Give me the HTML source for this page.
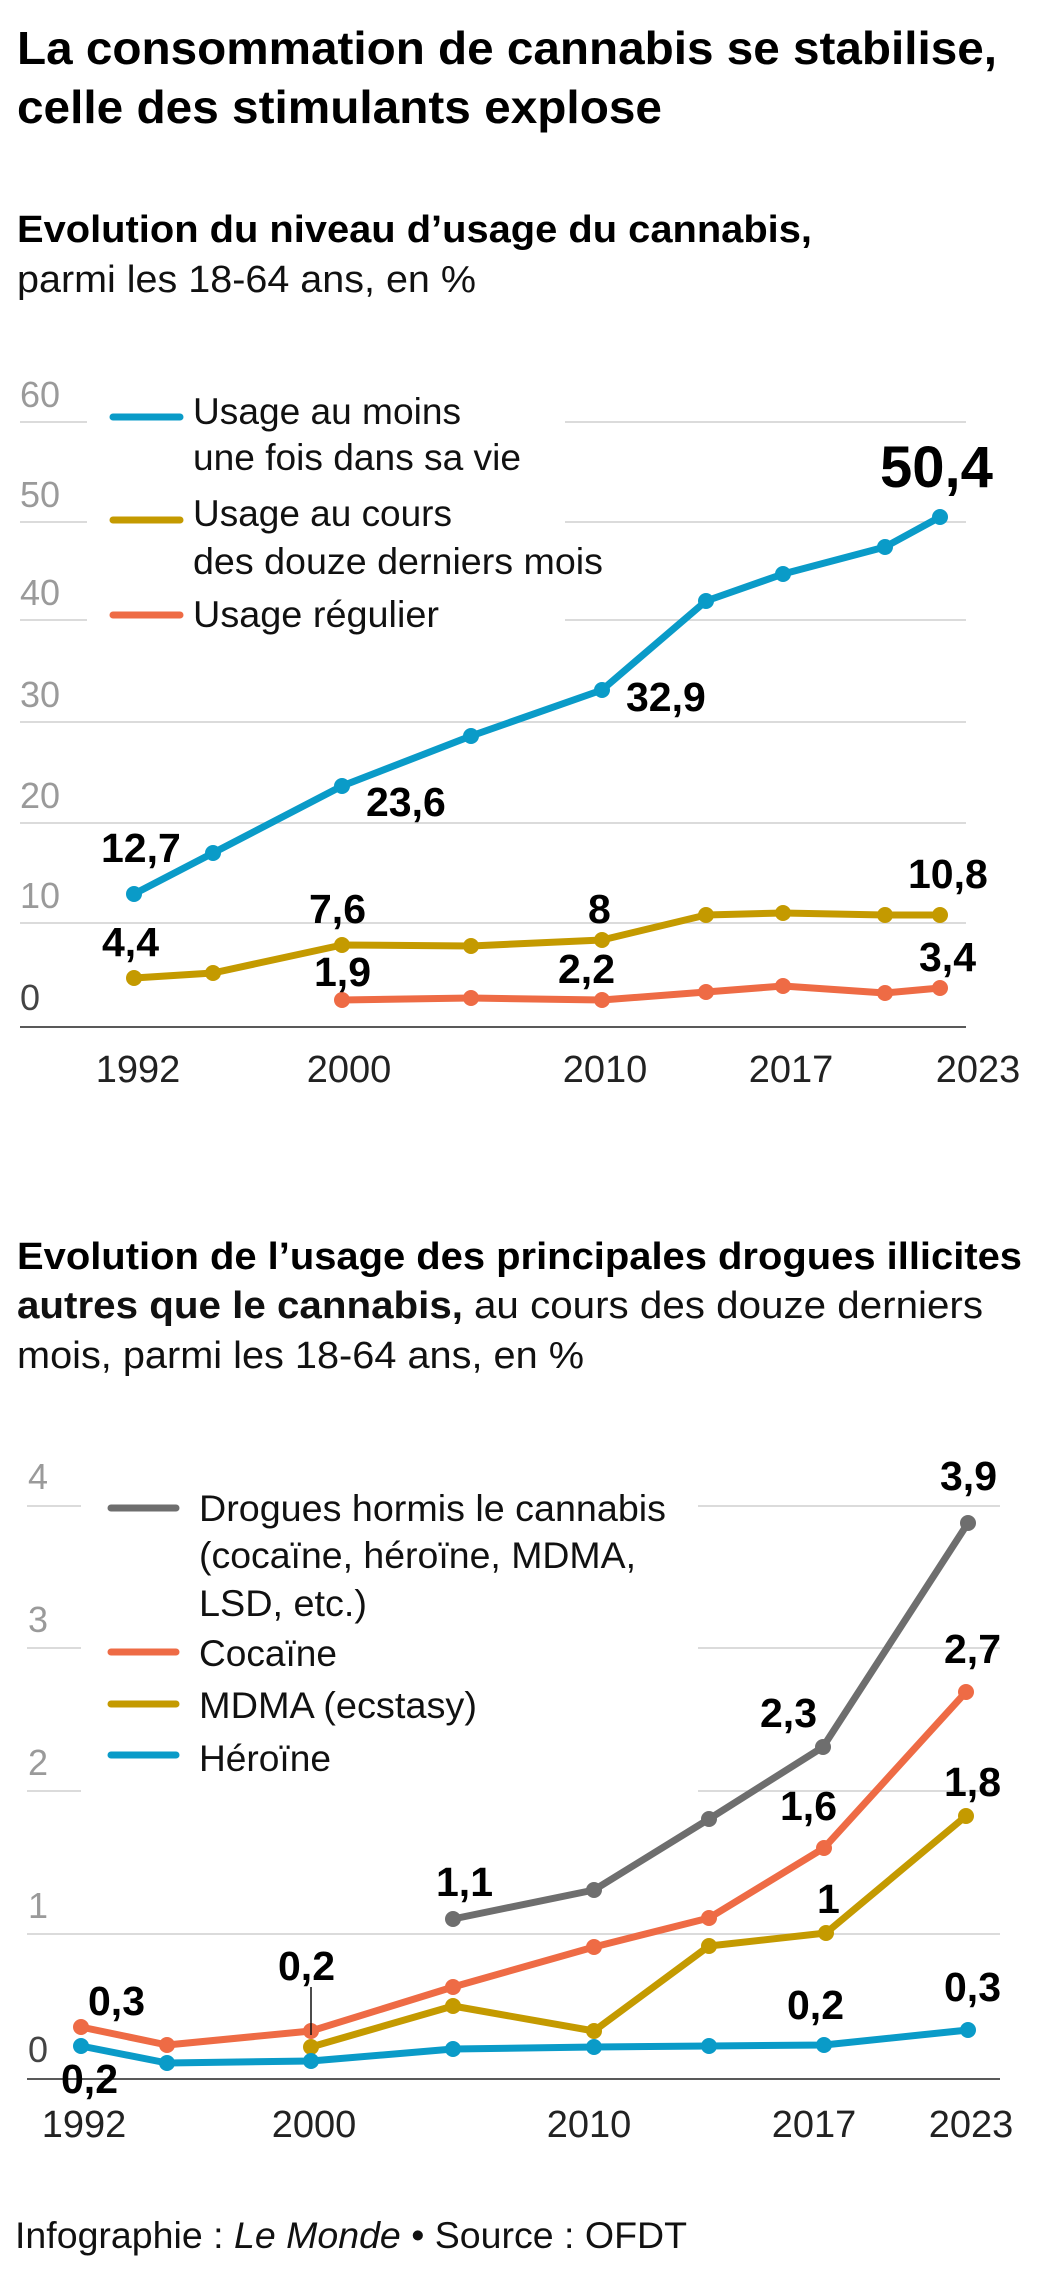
<!DOCTYPE html>
<html><head><meta charset="utf-8"><style>
html,body{margin:0;padding:0;background:#fff}
svg{display:block}
text{font-family:"Liberation Sans",sans-serif}
.b{font-weight:bold}
.y{fill:#9a9a9a;font-size:36px}
.x{fill:#222;font-size:38px;text-anchor:middle}
.l{fill:#111;font-size:37px}
.v{fill:#000;font-weight:bold;font-size:41px}
.g{stroke:#cfcfcf;stroke-width:1.5}
</style></head><body>
<svg width="1051" height="2295" viewBox="0 0 1051 2295" xmlns="http://www.w3.org/2000/svg">
<rect width="1051" height="2295" fill="#fff"/>
<text x="17" y="64" class="b" font-size="46" textLength="980" lengthAdjust="spacingAndGlyphs">La consommation de cannabis se stabilise,</text>
<text x="17" y="123" class="b" font-size="46" textLength="645" lengthAdjust="spacingAndGlyphs">celle des stimulants explose</text>

<text x="17" y="242" class="b" font-size="38" textLength="795" lengthAdjust="spacingAndGlyphs">Evolution du niveau d’usage du cannabis,</text>
<text x="17" y="292" font-size="38" fill="#111" textLength="459" lengthAdjust="spacingAndGlyphs">parmi les 18-64 ans, en %</text>

<g class="g">
<line x1="20" y1="422" x2="87" y2="422"/><line x1="565" y1="422" x2="966" y2="422"/>
<line x1="20" y1="522" x2="87" y2="522"/><line x1="565" y1="522" x2="966" y2="522"/>
<line x1="20" y1="620" x2="87" y2="620"/><line x1="565" y1="620" x2="966" y2="620"/>
<line x1="20" y1="722" x2="966" y2="722"/>
<line x1="20" y1="823" x2="966" y2="823"/>
<line x1="20" y1="923" x2="966" y2="923"/>
</g>
<line x1="20" y1="1027" x2="966" y2="1027" stroke="#222" stroke-width="1.5"/>
<text x="20" y="407" class="y">60</text>
<text x="20" y="507" class="y">50</text>
<text x="20" y="605" class="y">40</text>
<text x="20" y="707" class="y">30</text>
<text x="20" y="808" class="y">20</text>
<text x="20" y="908" class="y">10</text>
<text x="20" y="1010" class="y" style="fill:#444">0</text>

<line x1="113" y1="417" x2="180" y2="417" stroke="#0a9bc8" stroke-width="7" stroke-linecap="round"/>
<line x1="113" y1="520" x2="180" y2="520" stroke="#c49a00" stroke-width="7" stroke-linecap="round"/>
<line x1="113" y1="615" x2="180" y2="615" stroke="#ee6b45" stroke-width="7" stroke-linecap="round"/>
<text x="193" y="424" class="l" textLength="268" lengthAdjust="spacingAndGlyphs">Usage au moins</text>
<text x="193" y="470" class="l" textLength="328" lengthAdjust="spacingAndGlyphs">une fois dans sa vie</text>
<text x="193" y="526" class="l" textLength="259" lengthAdjust="spacingAndGlyphs">Usage au cours</text>
<text x="193" y="574" class="l" textLength="410" lengthAdjust="spacingAndGlyphs">des douze derniers mois</text>
<text x="193" y="627" class="l" textLength="246" lengthAdjust="spacingAndGlyphs">Usage régulier</text>

<g fill="none" stroke-width="7" stroke-linejoin="round">
<polyline stroke="#0a9bc8" points="134,894 213,853 342,786 471,736 602,690 706,601 783,574 885,547 940,517"/>
<polyline stroke="#c49a00" points="134,978 213,973 342,945 471,946 602,940 706,915 783,913 885,915 940,915"/>
<polyline stroke="#ee6b45" points="342,1000 471,998 602,1000 706,992 783,986 885,993 940,988"/>
</g>
<g fill="#0a9bc8"><circle cx="134" cy="894" r="8"/><circle cx="213" cy="853" r="8"/><circle cx="342" cy="786" r="8"/><circle cx="471" cy="736" r="8"/><circle cx="602" cy="690" r="8"/><circle cx="706" cy="601" r="8"/><circle cx="783" cy="574" r="8"/><circle cx="885" cy="547" r="8"/><circle cx="940" cy="517" r="8"/></g>
<g fill="#c49a00"><circle cx="134" cy="978" r="8"/><circle cx="213" cy="973" r="8"/><circle cx="342" cy="945" r="8"/><circle cx="471" cy="946" r="8"/><circle cx="602" cy="940" r="8"/><circle cx="706" cy="915" r="8"/><circle cx="783" cy="913" r="8"/><circle cx="885" cy="915" r="8"/><circle cx="940" cy="915" r="8"/></g>
<g fill="#ee6b45"><circle cx="342" cy="1000" r="8"/><circle cx="471" cy="998" r="8"/><circle cx="602" cy="1000" r="8"/><circle cx="706" cy="992" r="8"/><circle cx="783" cy="986" r="8"/><circle cx="885" cy="993" r="8"/><circle cx="940" cy="988" r="8"/></g>

<text x="101" y="862" class="v">12,7</text>
<text x="366" y="816" class="v">23,6</text>
<text x="626" y="711" class="v">32,9</text>
<text x="880" y="487" class="v" style="font-size:58px">50,4</text>
<text x="102" y="956" class="v">4,4</text>
<text x="309" y="923" class="v">7,6</text>
<text x="588" y="923" class="v">8</text>
<text x="908" y="888" class="v">10,8</text>
<text x="314" y="986" class="v">1,9</text>
<text x="558" y="983" class="v">2,2</text>
<text x="919" y="971" class="v">3,4</text>

<text x="138" y="1082" class="x">1992</text>
<text x="349" y="1082" class="x">2000</text>
<text x="605" y="1082" class="x">2010</text>
<text x="791" y="1082" class="x">2017</text>
<text x="978" y="1082" class="x">2023</text>

<!-- chart 2 -->
<text x="17" y="1269" class="b" font-size="38" textLength="1005" lengthAdjust="spacingAndGlyphs">Evolution de l’usage des principales drogues illicites</text>
<text x="17" y="1318" class="b" font-size="38" fill="#111" textLength="446" lengthAdjust="spacingAndGlyphs">autres que le cannabis,</text>
<text x="474" y="1318" font-size="38" fill="#111" textLength="509" lengthAdjust="spacingAndGlyphs">au cours des douze derniers</text>
<text x="17" y="1368" font-size="38" fill="#111" textLength="567" lengthAdjust="spacingAndGlyphs">mois, parmi les 18-64 ans, en %</text>

<g class="g">
<line x1="27" y1="1506" x2="81" y2="1506"/><line x1="698" y1="1506" x2="1000" y2="1506"/>
<line x1="27" y1="1648" x2="81" y2="1648"/><line x1="698" y1="1648" x2="1000" y2="1648"/>
<line x1="27" y1="1791" x2="81" y2="1791"/><line x1="698" y1="1791" x2="1000" y2="1791"/>
<line x1="27" y1="1934" x2="1000" y2="1934"/>
</g>
<line x1="27" y1="2079" x2="1000" y2="2079" stroke="#222" stroke-width="1.5"/>
<text x="28" y="1489" class="y">4</text>
<text x="28" y="1632" class="y">3</text>
<text x="28" y="1775" class="y">2</text>
<text x="28" y="1918" class="y">1</text>
<text x="28" y="2062" class="y" style="fill:#444">0</text>

<line x1="111" y1="1508" x2="176" y2="1508" stroke="#6e6e6e" stroke-width="7" stroke-linecap="round"/>
<line x1="111" y1="1652" x2="176" y2="1652" stroke="#ee6b45" stroke-width="7" stroke-linecap="round"/>
<line x1="111" y1="1704" x2="176" y2="1704" stroke="#c49a00" stroke-width="7" stroke-linecap="round"/>
<line x1="111" y1="1755" x2="176" y2="1755" stroke="#0a9bc8" stroke-width="7" stroke-linecap="round"/>
<text x="199" y="1521" class="l" textLength="467" lengthAdjust="spacingAndGlyphs">Drogues hormis le cannabis</text>
<text x="199" y="1568" class="l" textLength="437" lengthAdjust="spacingAndGlyphs">(cocaïne, héroïne, MDMA,</text>
<text x="199" y="1616" class="l" textLength="168" lengthAdjust="spacingAndGlyphs">LSD, etc.)</text>
<text x="199" y="1666" class="l" textLength="138" lengthAdjust="spacingAndGlyphs">Cocaïne</text>
<text x="199" y="1718" class="l" textLength="278" lengthAdjust="spacingAndGlyphs">MDMA (ecstasy)</text>
<text x="199" y="1771" class="l" textLength="132" lengthAdjust="spacingAndGlyphs">Héroïne</text>

<g fill="none" stroke-width="7" stroke-linejoin="round">
<polyline stroke="#6e6e6e" points="453,1919 594,1890 709,1819 823,1747 968,1523"/>
<polyline stroke="#ee6b45" points="81,2027 167,2045 311,2031 453,1987 594,1947 709,1918 824,1848 966,1692"/>
<polyline stroke="#c49a00" points="311,2047 453,2006 594,2031 709,1946 826,1933 966,1816"/>
<polyline stroke="#0a9bc8" points="81,2046 167,2063 311,2061 453,2049 594,2047 709,2046 824,2045 968,2030"/>
</g>
<g fill="#6e6e6e"><circle cx="453" cy="1919" r="8"/><circle cx="594" cy="1890" r="8"/><circle cx="709" cy="1819" r="8"/><circle cx="823" cy="1747" r="8"/><circle cx="968" cy="1523" r="8"/></g>
<g fill="#ee6b45"><circle cx="81" cy="2027" r="8"/><circle cx="167" cy="2045" r="8"/><circle cx="311" cy="2031" r="8"/><circle cx="453" cy="1987" r="8"/><circle cx="594" cy="1947" r="8"/><circle cx="709" cy="1918" r="8"/><circle cx="824" cy="1848" r="8"/><circle cx="966" cy="1692" r="8"/></g>
<g fill="#c49a00"><circle cx="311" cy="2047" r="8"/><circle cx="453" cy="2006" r="8"/><circle cx="594" cy="2031" r="8"/><circle cx="709" cy="1946" r="8"/><circle cx="826" cy="1933" r="8"/><circle cx="966" cy="1816" r="8"/></g>
<g fill="#0a9bc8"><circle cx="81" cy="2046" r="8"/><circle cx="167" cy="2063" r="8"/><circle cx="311" cy="2061" r="8"/><circle cx="453" cy="2049" r="8"/><circle cx="594" cy="2047" r="8"/><circle cx="709" cy="2046" r="8"/><circle cx="824" cy="2045" r="8"/><circle cx="968" cy="2030" r="8"/></g>

<line x1="311" y1="1987" x2="311" y2="2035" stroke="#111" stroke-width="1.5"/>
<text x="940" y="1490" class="v">3,9</text>
<text x="944" y="1663" class="v">2,7</text>
<text x="944" y="1796" class="v">1,8</text>
<text x="760" y="1727" class="v">2,3</text>
<text x="780" y="1820" class="v">1,6</text>
<text x="817" y="1913" class="v">1</text>
<text x="436" y="1896" class="v">1,1</text>
<text x="278" y="1980" class="v">0,2</text>
<text x="88" y="2015" class="v">0,3</text>
<text x="61" y="2093" class="v">0,2</text>
<text x="787" y="2019" class="v">0,2</text>
<text x="944" y="2001" class="v">0,3</text>

<text x="84" y="2137" class="x">1992</text>
<text x="314" y="2137" class="x">2000</text>
<text x="589" y="2137" class="x">2010</text>
<text x="814" y="2137" class="x">2017</text>
<text x="971" y="2137" class="x">2023</text>

<text x="15" y="2248" font-size="37" fill="#111" textLength="672" lengthAdjust="spacingAndGlyphs">Infographie : <tspan font-style="italic">Le Monde</tspan> • Source : OFDT</text>
</svg>
</body></html>
